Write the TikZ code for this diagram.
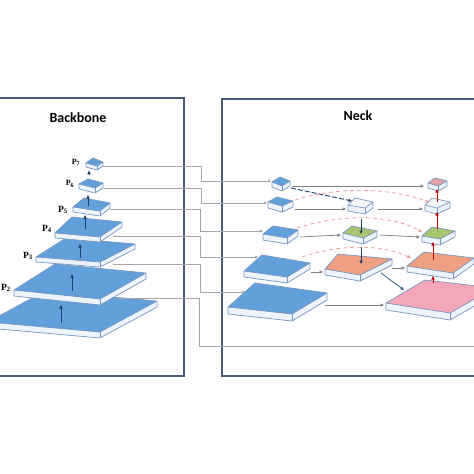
\documentclass[tikz,border=0pt]{standalone}
\usepackage{fontspec}
\setmainfont{Liberation Serif}
\newfontfamily\titlefont{Carlito}
\usetikzlibrary{arrows.meta,calc}
\definecolor{frame}{HTML}{4A5B7A}
\definecolor{sblue}{HTML}{62A0DC}
\definecolor{sline}{HTML}{7896C0}
\definecolor{sside}{HTML}{EEF4FB}
\definecolor{sorange}{HTML}{EFA082}
\definecolor{sgreen}{HTML}{A9C46F}
\definecolor{spink}{HTML}{F4A7B9}
\definecolor{sred}{HTML}{E6A1A8}
\definecolor{swhite}{HTML}{F6F7F8}
\definecolor{conn}{HTML}{A6A6A6}
\definecolor{garr}{HTML}{808080}
\definecolor{navy}{HTML}{1F3F66}
\definecolor{tealb}{HTML}{2E5C8A}
\definecolor{redarr}{HTML}{C00000}
\definecolor{pinkdash}{HTML}{F2A0A0}
\tikzset{
  slabline/.style={draw=sline,line width=0.7pt,line join=round},
  slabside/.style={fill=sside},
  framebox/.style={draw=frame,line width=1.2pt},
  title/.style={font=\titlefont\fontsize{14}{14}\selectfont\bfseries,inner sep=0pt},
  plabel/.style={font=\fontsize{9.5}{9.5}\selectfont\bfseries,inner sep=0pt},
  plabelsm/.style={font=\fontsize{8}{8}\selectfont\bfseries,inner sep=0pt},
  feed/.style={draw=conn,line width=0.8pt},
  feedarr/.style={draw=conn,line width=0.8pt,-{Triangle[length=3pt,width=3pt,fill=garr]}},
  grayarr/.style={draw=garr,line width=0.7pt,-{Triangle[length=3.5pt,width=3pt]}},
  navyarr/.style={draw=navy,line width=0.9pt,-{Triangle[length=3.5pt,width=3pt]}},
  bluearr/.style={draw=tealb,line width=0.8pt,-{Triangle[length=3.5pt,width=3pt]}},
  redup/.style={draw=redarr,line width=0.9pt,-{Triangle[length=3.5pt,width=3.2pt]}},
  pinkarr/.style={draw=pinkdash,line width=0.8pt,dash pattern=on 4pt off 3pt,-{Triangle[length=3.5pt,width=3pt]}},
}
\newcommand\slab[7]{%
  \coordinate (#1L) at (#2); \coordinate (#1F) at (#3);
  \coordinate (#1R) at (#4); \coordinate (#1B) at (#5);
  \fill[slabside] (#1L) -- (#1F) -- (#1R) -- ($(#1R)+(0,#6)$) -- ($(#1F)+(0,#6)$) -- ($(#1L)+(0,#6)$) -- cycle;
  \draw[slabline] (#1L) -- ($(#1L)+(0,#6)$) -- ($(#1F)+(0,#6)$) -- ($(#1R)+(0,#6)$) -- (#1R);
  \draw[slabline] (#1F) -- ($(#1F)+(0,#6)$);
  \filldraw[slabline,fill=#7] (#1L) -- (#1F) -- (#1R) -- (#1B) -- cycle;
}
\begin{document}
\begin{tikzpicture}[x=1pt,y=-1pt]
\useasboundingbox (0,0) rectangle (474,474);
\clip (0,0) rectangle (474,474);
\fill[white] (0,0) rectangle (474,474);
% frames
\draw[framebox] (-5,98) rectangle (184,376);
\draw[framebox] (222,99) rectangle (480,376);
\node[title] (tb) at (78,118) {Backbone};
\node[title] (tn) at (358,116) {Neck};

% backbone slabs
\slab{c1}{-12,322}{100,332}{157,301}{45,291}{6}{sblue}
\slab{p2}{14,290}{100,299}{146,273}{55,264}{6}{sblue}
\slab{p3}{36,257}{100,262}{135,244}{66,238}{5}{sblue}
\slab{p4}{55,233}{100,237}{122,222}{72,217}{5}{sblue}
\slab{p5}{73,207}{100,211}{110,203}{84,198}{5}{sblue}
\slab{p6}{79,184}{95,188}{103,183}{88,179}{5}{sblue}
\slab{p7}{86,163}{97,166}{103,162}{93,158}{4}{sblue}

% backbone labels
\node[plabelsm] (l7) at (76,162) {P\textsubscript{7}};
\node[plabelsm] (l6) at (70,184) {P\textsubscript{6}};
\node[plabel] (l5) at (63,210) {P\textsubscript{5}};
\node[plabel] (l4) at (47,229) {P\textsubscript{4}};
\node[plabel] (l3) at (28,256) {P\textsubscript{3}};
\node[plabel] (l2) at (6,288) {P\textsubscript{2}};

% backbone up arrows
\coordinate (a1s) at (61,323); \coordinate (a1e) at (61,305);
\coordinate (a2s) at (72,291); \coordinate (a2e) at (72,274);
\coordinate (a3s) at (80,258); \coordinate (a3e) at (80,244);
\coordinate (a4s) at (85,229); \coordinate (a4e) at (85,215);
\coordinate (a5s) at (88,206); \coordinate (a5e) at (88,195);
\coordinate (a6s) at (89,175); \coordinate (a6e) at (89,170.5);
\foreach \i in {1,...,6} \draw[navyarr] (a\i s) -- (a\i e);

% neck slabs
\slab{n1a}{272,182}{282,186}{290,181}{280,177}{5}{sblue}
\slab{n1b}{268,202}{282,206}{293,201}{277,197}{6}{sblue}
\slab{n1c}{263,234}{287,238}{298,230}{273,226}{6}{sblue}
\slab{n1d}{244,271}{287,277}{310,263}{262,255}{6}{sblue}
\slab{n1e}{228,307}{292,314}{327,293}{255,283}{7}{sblue}
\slab{n2a}{348,205}{365,208}{373,202}{355,198}{6}{swhite}
\slab{n2b}{343,233}{363,238}{377,231}{352,226}{6}{sgreen}
\slab{n2c}{325,269}{360,275}{392,259}{338,254}{6}{sorange}
\slab{n3a}{428,183}{438,186}{447,181}{435,178}{5}{sred}
\slab{n3b}{425,205}{437,208}{450,202}{432,198}{6}{swhite}
\slab{n3c}{422,236}{440,239}{455,231}{432,227}{6}{sgreen}
\slab{n3d}{407,266}{453,273}{474,258}{424,252}{6}{sorange}
\slab{n3e}{386,303}{450,313}{494,288}{425,280}{7}{spink}

% feed lines backbone -> neck
\coordinate (f7) at (103,166); \coordinate (f7x) at (201,166); \coordinate (f7y) at (201,181); \coordinate (t7) at (271,181);
\coordinate (f6) at (104,188); \coordinate (f6x) at (201,188); \coordinate (f6y) at (201,203); \coordinate (t6) at (267,203);
\coordinate (f5) at (110,209); \coordinate (f5x) at (200,209); \coordinate (f5y) at (200,231); \coordinate (t5) at (263,231);
\coordinate (f4) at (113,236); \coordinate (f4x) at (200,236); \coordinate (f4y) at (200,257); \coordinate (t4) at (258,257);
\coordinate (f3) at (113,264); \coordinate (f3x) at (200,264); \coordinate (f3y) at (200,292); \coordinate (t3) at (245,292);
\coordinate (f2) at (117,298); \coordinate (f2x) at (199,298); \coordinate (f2y) at (199,346); \coordinate (t2) at (480,346);
\foreach \i in {7,6,5,4,3} \draw[feedarr] (f\i) -- (f\i x) -- (f\i y) -- (t\i);
\draw[feed] (f2) -- (f2x) -- (f2y) -- (t2);

% neck connectors
\coordinate (g1s) at (292,186); \coordinate (g1e) at (424,186);
\coordinate (g2s) at (295,209); \coordinate (g2e) at (346,209);
\coordinate (g3s) at (378,209); \coordinate (g3e) at (423,209);
\coordinate (g4s) at (300,237); \coordinate (g4e) at (341,235);
\coordinate (g5s) at (380,235); \coordinate (g5e) at (420,237);
\coordinate (g6s) at (311,272); \coordinate (g6e) at (323,272);
\coordinate (g7s) at (392,268); \coordinate (g7e) at (405,268);
\coordinate (g8s) at (325,305); \coordinate (g8e) at (384,305);
\foreach \i in {1,...,8} \draw[grayarr] (g\i s) -- (g\i e);

\coordinate (d1s) at (291,188); \coordinate (d1e) at (352,201);
\draw[navyarr,dash pattern=on 5pt off 2pt] (d1s) -- (d1e);
\coordinate (d2s) at (361,219); \coordinate (d2e) at (361,234);
\coordinate (d3s) at (361,247); \coordinate (d3e) at (361,264);
\draw[navyarr] (d2s) -- (d2e);
\draw[navyarr] (d3s) -- (d3e);
\coordinate (d4s) at (381,273); \coordinate (d4e) at (404,290);
\draw[bluearr] (d4s) -- (d4e);

\coordinate (r1s) at (433,283); \coordinate (r1e) at (433,276);
\coordinate (r2s) at (433,260); \coordinate (r2e) at (433,242);
\coordinate (r3s) at (437,229); \coordinate (r3e) at (437,212);
\coordinate (r4s) at (437,202); \coordinate (r4e) at (437,189);
\foreach \i in {1,...,4} \draw[redup] (r\i s) -- (r\i e);

\coordinate (q1s) at (295,200); \coordinate (q1e) at (429,202);
\coordinate (q2s) at (297,228); \coordinate (q2e) at (422,232);
\coordinate (q3s) at (302,257); \coordinate (q3e) at (411,258);
\draw[pinkarr] (q1s) .. controls (340,186) and (390,188) .. (q1e);
\draw[pinkarr] (q2s) .. controls (340,214) and (390,214) .. (q2e);
\draw[pinkarr] (q3s) .. controls (340,244) and (380,244) .. (q3e);
\end{tikzpicture}
\end{document}
